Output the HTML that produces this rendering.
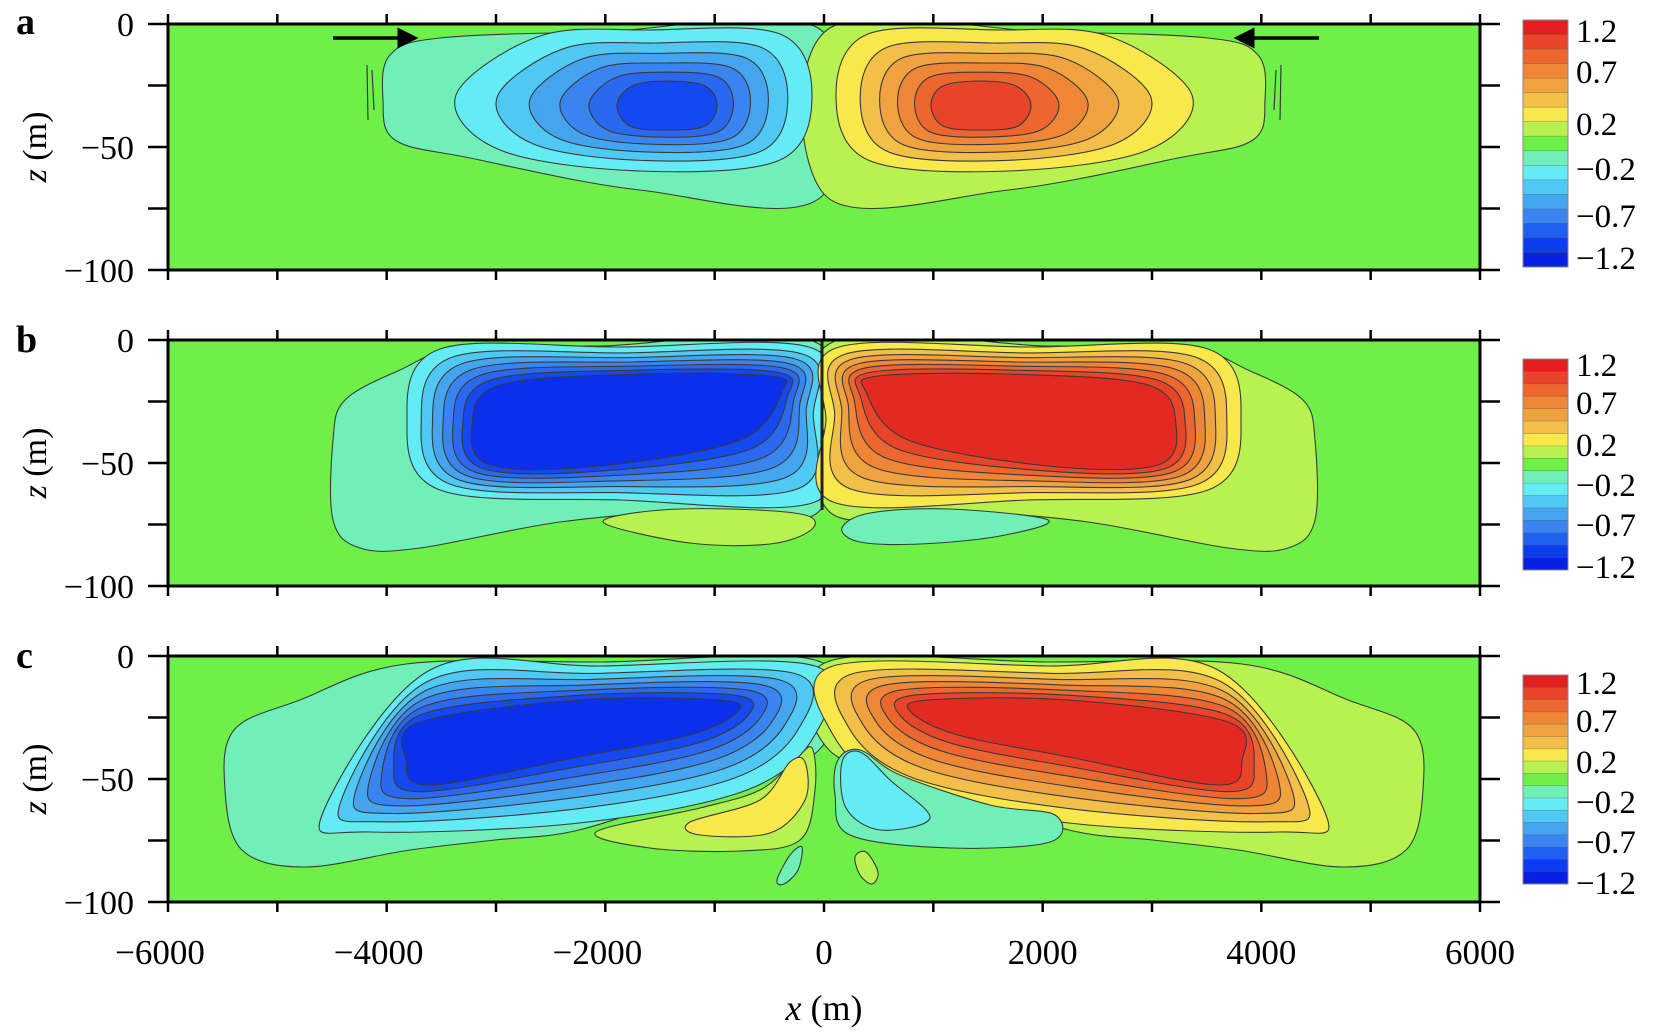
<!DOCTYPE html>
<html><head><meta charset="utf-8"><style>
html,body{margin:0;padding:0;background:#fff;}
svg{display:block;}
</style></head><body>
<svg id="s" width="1654" height="1033" viewBox="0 0 1654 1033" xmlns="http://www.w3.org/2000/svg" font-family="'Liberation Serif', serif">
<defs>
<marker id="ah" markerWidth="6" markerHeight="6" refX="3" refY="3" orient="auto"><path d="M0,0 L6,3 L0,6 Z" fill="#000"/></marker>
<clipPath id="c0"><rect x="168" y="24" width="1312" height="246"/></clipPath>
<clipPath id="c1"><rect x="168" y="340" width="1312" height="246"/></clipPath>
<clipPath id="c2"><rect x="168" y="656" width="1312" height="246"/></clipPath>
</defs>
<g id="root"></g>
<text x="16" y="34" font-size="38" font-weight="bold" font-family="'Liberation Serif', serif">a</text>
<text x="16" y="352" font-size="38" font-weight="bold" font-family="'Liberation Serif', serif">b</text>
<text x="16" y="668" font-size="38" font-weight="bold" font-family="'Liberation Serif', serif">c</text>
</svg>
<script>
const NS="http://www.w3.org/2000/svg";
const root=document.getElementById('root');
const FF="'Liberation Serif', serif";
function el(t,a,p){const e=document.createElementNS(NS,t);for(const k in a)e.setAttribute(k,a[k]);(p||root).appendChild(e);return e;}
function smooth(pts){const n=pts.length;let d=`M${pts[0][0]},${pts[0][1]}`;
 for(let i=0;i<n;i++){const p0=pts[(i-1+n)%n],p1=pts[i],p2=pts[(i+1)%n],p3=pts[(i+2)%n];
  const c1=[p1[0]+(p2[0]-p0[0])/6,p1[1]+(p2[1]-p0[1])/6],c2=[p2[0]-(p3[0]-p1[0])/6,p2[1]-(p3[1]-p1[1])/6];
  d+=` C${c1[0].toFixed(1)},${c1[1].toFixed(1)} ${c2[0].toFixed(1)},${c2[1].toFixed(1)} ${p2[0]},${p2[1]}`;}
 return d+'Z';}
let G=root;
function shape(pts,fill){el('path',{d:smooth(pts),fill:fill,stroke:'#3a3a3a','stroke-width':1.1},G);}
function mir(pts){return pts.map(p=>[1648-p[0],p[1]]);}
function lobe(outer,inner,cols){const n=cols.length;
 for(let k=0;k<n;k++){const t=n==1?0:k/(n-1);const t2=Math.pow(t,0.85);
  const pts=outer.map((p,i)=>[+(p[0]+(inner[i][0]-p[0])*t2).toFixed(1),+(p[1]+(inner[i][1]-p[1])*t2).toFixed(1)]);
  shape(pts,cols[k]);}}
const NEG=['#64ecf4','#50c8f4','#44a4f0','#3a84f0','#2a68f0','#1448f0','#0a30ee'];
const POS=['#f8e84c','#f2c048','#f0a240','#ee8636','#ed6630','#e8442a','#e32a22'];
const MINT='#70f0b8',LG='#b8f250',BG='#6ef048';
const X0=168,X1=1480;
const tops=[24,340,656];
tops.forEach((T,pi)=>{
 const B=T+246;
 el('rect',{x:X0,y:T,width:X1-X0,height:246,fill:BG});
 G=el('g',{'clip-path':`url(#c${pi})`});
 if(pi==0){
  const m=[[821,30],[600,32],[440,38],[390,55],[383,100],[395,140],[470,158],[640,190],[821,197]];
  shape(m,MINT); shape(mir(m),LG);
  el('path',{d:'M367,65 L368,120 M372,70 L374,110',stroke:'#3a3a3a','stroke-width':1.2,fill:'none'},G);
  el('path',{d:'M1281,65 L1280,120 M1276,70 L1274,110',stroke:'#3a3a3a','stroke-width':1.2,fill:'none'},G);
  const o=[[540,36],[650,30],[780,34],[812,95],[780,160],[640,171],[500,150],[456,95]];
  const i=[[632,86],[667,81],[705,86],[717,105],[705,126],[667,130],[630,126],[617,105]];
  lobe(o,i,NEG.slice(0,6)); lobe(mir(o),mir(i),POS.slice(0,6));
 }
 if(pi==1){
  const m=[[822,346],[600,346],[460,348],[400,370],[345,400],[333,440],[333,520],[360,548],[420,548],[560,522],[700,510],[822,508]];
  shape(m,MINT); shape(mir(m),LG);
  shape([[604,523],[650,511],[730,509],[805,515],[811,530],[770,544],[690,543]],LG);
  shape([[842,528],[870,513],[950,509],[1048,520],[1000,536],[920,544],[860,542]],MINT);
  const o=[[440,349],[620,347],[812,348],[822,420],[815,502],[620,500],[440,490],[407,420]];
  const i=[[500,385],[640,374],[770,376],[782,392],[740,440],[600,466],[490,465],[472,425]];
  lobe(o,i,NEG); lobe(mir(o),mir(i),POS);
  el('line',{x1:822,y1:341,x2:822,y2:510,stroke:'#222','stroke-width':3},G);
 }
 if(pi==2){
  const m=[[821,662],[600,662],[406,664],[300,700],[234,730],[225,790],[242,850],[305,867],[410,850],[495,840],[579,830],[700,790],[819,750]];
  shape(m,MINT); shape(mir(m),LG);
  const o=[[430,670],[600,666],[815,666],[816,733],[747,790],[579,823],[370,832],[322,815]];
  const i=[[420,722],[579,700],[720,700],[737,712],[690,735],[579,757],[430,785],[406,760]];
  lobe(o,i,NEG); lobe(mir(o),mir(i),POS);
  shape([[596,832],[700,808],[760,790],[795,760],[812,748],[815,790],[800,840],[740,851],[650,848]],LG);
  shape([[690,822],[760,800],[790,762],[805,762],[805,800],[770,833],[700,835]],'#f8e84c');
  shape([[838,760],[860,750],[900,775],[990,805],[1055,815],[1050,842],[950,848],[850,835],[835,795]],MINT);
  shape([[842,762],[860,752],[890,780],[930,818],[880,830],[846,808]],'#64ecf4');
  shape([[777,880],[790,855],[802,847],[798,870],[784,884]],MINT);
  shape([[855,857],[866,852],[878,872],[872,884],[860,875]],LG);
 }
 G=root;
 el('rect',{x:X0,y:T,width:X1-X0,height:246,fill:'none',stroke:'#000','stroke-width':3});
 for(let k=0;k<=12;k++){const x=X0+k*(X1-X0)/12;
  el('line',{x1:x,y1:T,x2:x,y2:T-10,stroke:'#000','stroke-width':2.5});
  el('line',{x1:x,y1:B,x2:x,y2:B+10,stroke:'#000','stroke-width':2.5});}
 for(let k=0;k<=4;k++){const y=T+k*246/4;
  el('line',{x1:X0-20,y1:y,x2:X0,y2:y,stroke:'#000','stroke-width':2.5});
  el('line',{x1:X1,y1:y,x2:X1+20,y2:y,stroke:'#000','stroke-width':2.5});}
 [['0',0],['\u221250',2],['\u2212100',4]].forEach(([l,k])=>{const t=el('text',{x:134,y:T+k*61.5+12,'font-size':34,'text-anchor':'end','font-family':FF});t.textContent=l;});
 const zl=el('text',{x:46,y:T+123,'font-size':34,'text-anchor':'middle','font-family':FF,transform:`rotate(-90 46 ${T+123})`});
 zl.innerHTML='<tspan font-style="italic">z</tspan> (m)';
});
el('line',{x1:333,y1:38,x2:408,y2:38,stroke:'#000','stroke-width':3.5,'marker-end':'url(#ah)'});
el('line',{x1:1319,y1:38,x2:1244,y2:38,stroke:'#000','stroke-width':3.5,'marker-end':'url(#ah)'});
[-6000,-4000,-2000,0,2000,4000,6000].forEach(v=>{const x=X0+(v+6000)*(X1-X0)/12000;
 const t=el('text',{x:x-(v<0?8:0),y:964,'font-size':35,'text-anchor':'middle','font-family':FF});t.textContent=(v<0?'\u2212':'')+Math.abs(v);});
const xl=el('text',{x:824,y:1020,'font-size':36,'text-anchor':'middle','font-family':FF});xl.innerHTML='<tspan font-style="italic">x</tspan> (m)';
const CB=['#e32020','#e8442a','#ed6630','#ee8636','#f0a240','#f2c048','#f8e84c','#b8f250','#6ef048','#70f0b8','#64ecf4','#50c8f4','#44a4f0','#3a84f0','#2060f0','#0c3cf0','#0a20e0'];
const cbs=[[20,267,[31,72,124,169,216,258]],[359,570,[365,403,445,485,525,567]],[675,884,[683,721,762,802,842,883]]];
const cl=['1.2','0.7','0.2','\u22120.2','\u22120.7','\u22121.2'];
cbs.forEach(([y0,y1,ls])=>{const h=(y1-y0)/CB.length;
 CB.forEach((c,k)=>el('rect',{x:1523,y:y0+k*h,width:45,height:h+0.5,fill:c}));
 for(let k=1;k<CB.length;k++)el('line',{x1:1523,y1:y0+k*h,x2:1568,y2:y0+k*h,stroke:'#555','stroke-width':0.6,opacity:0.5});
 el('rect',{x:1523,y:y0,width:45,height:y1-y0,fill:'none',stroke:'#888','stroke-width':1});
 ls.forEach((y,k)=>{const t=el('text',{x:1576,y:y+11,'font-size':33,'font-family':FF});t.textContent=cl[k];});
});
</script>
</body></html>
